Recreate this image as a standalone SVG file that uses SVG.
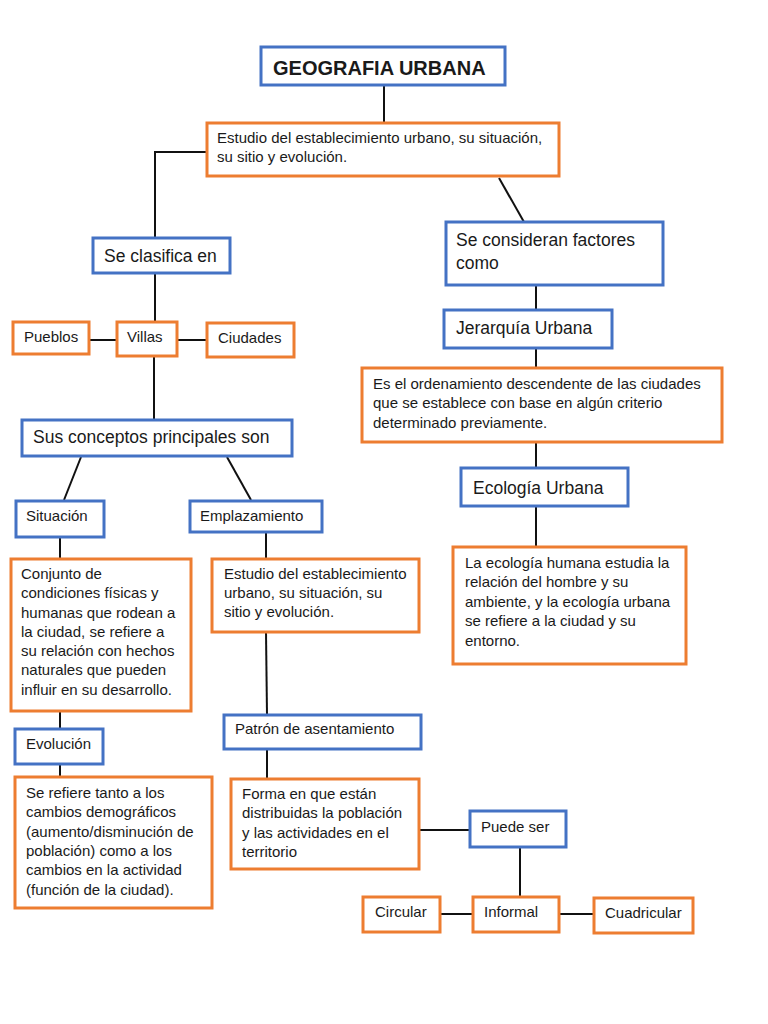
<svg xmlns="http://www.w3.org/2000/svg" width="768" height="1024" viewBox="0 0 768 1024">
<style>
.b{fill:#fff;stroke:#4472C4;stroke-width:3}
.o{fill:#fff;stroke:#ED7D31;stroke-width:3}
text{font-family:"Liberation Sans",Arial,sans-serif;fill:#1a1a1a}
.t{font-size:15px}
.m{font-size:17.5px}
.h{font-size:20px;font-weight:bold}
.c line,.c polyline{stroke:#111;stroke-width:2;fill:none}
</style>
<rect width="768" height="1024" fill="#fff"/>
<g class="c">
<line x1="384" y1="85" x2="384" y2="123"/>
<polyline points="207,152 155,152 155,238"/>
<line x1="499" y1="178" x2="524" y2="222"/>
<line x1="155" y1="273" x2="155" y2="322"/>
<line x1="89" y1="340" x2="117" y2="340"/>
<line x1="177" y1="340" x2="207" y2="340"/>
<line x1="154" y1="357" x2="154" y2="420"/>
<line x1="81" y1="457" x2="64" y2="500"/>
<line x1="227" y1="457" x2="251" y2="500"/>
<line x1="60" y1="537" x2="60" y2="559"/>
<line x1="60" y1="712" x2="60" y2="729"/>
<line x1="60" y1="764" x2="60" y2="777"/>
<line x1="266" y1="532" x2="266" y2="559"/>
<line x1="266" y1="632" x2="267" y2="715"/>
<line x1="267" y1="749" x2="267" y2="779"/>
<line x1="419" y1="830" x2="470" y2="830"/>
<line x1="520" y1="847" x2="520" y2="897"/>
<line x1="440" y1="914" x2="473" y2="914"/>
<line x1="559" y1="914" x2="594" y2="914"/>
<line x1="536" y1="285" x2="536" y2="310"/>
<line x1="536" y1="348" x2="536" y2="368"/>
<line x1="536" y1="442" x2="536" y2="468"/>
<line x1="536" y1="506" x2="536" y2="547"/>
</g>
<g id="title"><rect class="b" x="261" y="47" width="244" height="38"/><text class="h" x="273" y="75">GEOGRAFIA URBANA</text></g>
<g id="def"><rect class="o" x="207" y="123" width="352" height="53"/><text class="t" x="217" y="143">Estudio del establecimiento urbano, su situación,</text><text class="t" x="217" y="162">su sitio y evolución.</text></g>
<g id="clasifica"><rect class="b" x="93" y="238" width="137" height="35"/><text class="m" x="104" y="262">Se clasifica en</text></g>
<g id="factores"><rect class="b" x="446" y="222" width="217" height="63"/><text class="m" x="456" y="246">Se consideran factores</text><text class="m" x="456" y="269">como</text></g>
<g id="pueblos"><rect class="o" x="13" y="322" width="76" height="32"/><text class="t" x="24" y="342">Pueblos</text></g>
<g id="villas"><rect class="o" x="117" y="322" width="60" height="34"/><text class="t" x="127" y="342">Villas</text></g>
<g id="ciudades"><rect class="o" x="207" y="323" width="87" height="34"/><text class="t" x="218" y="343">Ciudades</text></g>
<g id="conceptos"><rect class="b" x="22" y="420" width="270" height="36"/><text class="m" x="33" y="443">Sus conceptos principales son</text></g>
<g id="situacion"><rect class="b" x="16" y="501" width="88" height="36"/><text class="t" x="26" y="521">Situación</text></g>
<g id="emplazamiento"><rect class="b" x="190" y="501" width="132" height="31"/><text class="t" x="200" y="521">Emplazamiento</text></g>
<g id="conjunto"><rect class="o" x="11" y="559" width="180" height="152"/>
<text class="t" x="21" y="579">Conjunto de</text><text class="t" x="21" y="598">condiciones físicas y</text><text class="t" x="21" y="618">humanas que rodean a</text><text class="t" x="21" y="637">la ciudad, se refiere a</text><text class="t" x="21" y="656">su relación con hechos</text><text class="t" x="21" y="675">naturales que pueden</text><text class="t" x="21" y="695">influir en su desarrollo.</text></g>
<g id="evolucion"><rect class="b" x="15" y="729" width="88" height="35"/><text class="t" x="26" y="749">Evolución</text></g>
<g id="serefiere"><rect class="o" x="15" y="777" width="197" height="131"/>
<text class="t" x="26" y="798">Se refiere tanto a los</text><text class="t" x="26" y="817">cambios demográficos</text><text class="t" x="26" y="837">(aumento/disminución de</text><text class="t" x="26" y="856">población) como a los</text><text class="t" x="26" y="875">cambios en la actividad</text><text class="t" x="26" y="895">(función de la ciudad).</text></g>
<g id="estudio2"><rect class="o" x="212" y="559" width="207" height="73"/>
<text class="t" x="224" y="579">Estudio del establecimiento</text><text class="t" x="224" y="598">urbano, su situación, su</text><text class="t" x="224" y="617">sitio y evolución.</text></g>
<g id="patron"><rect class="b" x="224" y="715" width="197" height="34"/><text class="t" x="235" y="734">Patrón de asentamiento</text></g>
<g id="forma"><rect class="o" x="231" y="779" width="188" height="90"/>
<text class="t" x="242" y="799">Forma en que están</text><text class="t" x="242" y="818">distribuidas la población</text><text class="t" x="242" y="838">y las actividades en el</text><text class="t" x="242" y="857">territorio</text></g>
<g id="puede"><rect class="b" x="470" y="811" width="96" height="36"/><text class="t" x="481" y="832">Puede ser</text></g>
<g id="circular"><rect class="o" x="363" y="897" width="77" height="35"/><text class="t" x="375" y="917">Circular</text></g>
<g id="informal"><rect class="o" x="473" y="897" width="86" height="35"/><text class="t" x="484" y="917">Informal</text></g>
<g id="cuadricular"><rect class="o" x="594" y="898" width="99" height="35"/><text class="t" x="605" y="918">Cuadricular</text></g>
<g id="jerarquia"><rect class="b" x="444" y="310" width="168" height="38"/><text class="m" x="456" y="334">Jerarquía Urbana</text></g>
<g id="esel"><rect class="o" x="362" y="368" width="360" height="74"/>
<text class="t" x="373" y="389">Es el ordenamiento descendente de las ciudades</text><text class="t" x="373" y="408">que se establece con base en algún criterio</text><text class="t" x="373" y="428">determinado previamente.</text></g>
<g id="ecologia"><rect class="b" x="461" y="468" width="167" height="38"/><text class="m" x="473" y="494">Ecología Urbana</text></g>
<g id="laeco"><rect class="o" x="453" y="547" width="233" height="117"/>
<text class="t" x="465" y="568">La ecología humana estudia la</text><text class="t" x="465" y="587">relación del hombre y su</text><text class="t" x="465" y="607">ambiente, y la ecología urbana</text><text class="t" x="465" y="626">se refiere a la ciudad y su</text><text class="t" x="465" y="646">entorno.</text></g>
</svg>
